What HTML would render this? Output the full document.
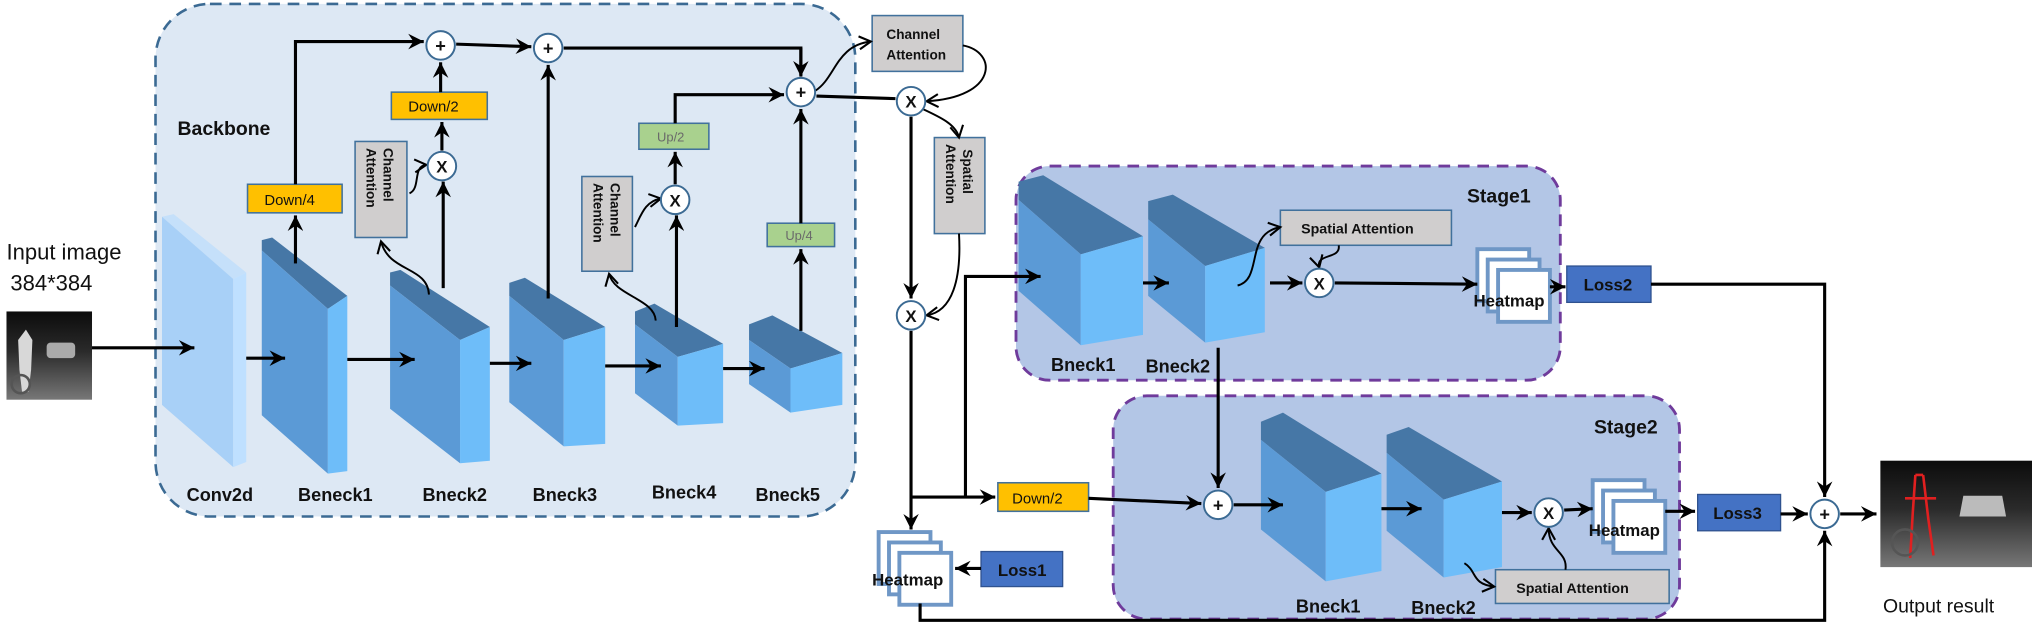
<!DOCTYPE html>
<html><head><meta charset="utf-8"><style>
html,body{margin:0;padding:0;background:#fff;}
svg{display:block;}
text{font-family:"Liberation Sans",sans-serif;font-weight:bold;fill:#111;}
</style></head><body>
<svg width="2032" height="632" viewBox="0 0 1568 487" preserveAspectRatio="none" xmlns="http://www.w3.org/2000/svg">
<defs>
<marker id="a" markerUnits="userSpaceOnUse" markerWidth="14" markerHeight="12" refX="12" refY="6" orient="auto">
<path d="M0,0 L12,6 L0,12 L4,6 Z" fill="#000"/>
</marker>
<marker id="b" markerUnits="userSpaceOnUse" markerWidth="12" markerHeight="12" refX="10" refY="6" orient="auto">
<path d="M1,1 L10,6 L1,11" fill="none" stroke="#000" stroke-width="1.6"/>
</marker>
<linearGradient id="ph" x1="0" y1="0" x2="0" y2="1"><stop offset="0" stop-color="#0c0c0c"/><stop offset="0.45" stop-color="#2a2a2a"/><stop offset="1" stop-color="#777"/></linearGradient>
</defs>

<rect x="120" y="3" width="540" height="395" rx="42" fill="#dde8f4" stroke="#3b6a93" stroke-width="2" stroke-dasharray="9,6"/>
<rect x="784" y="128" width="420" height="165" rx="26" fill="#b3c6e6" stroke="#6f3b9b" stroke-width="2.2" stroke-dasharray="9,6"/>
<rect x="859" y="305" width="437" height="172" rx="26" fill="#b3c6e6" stroke="#6f3b9b" stroke-width="2.2" stroke-dasharray="9,6"/>

<text x="137" y="104" font-size="15">Backbone</text>
<text x="1132" y="156" font-size="15">Stage1</text>
<text x="1230" y="334" font-size="15">Stage2</text>

<text x="5" y="200" font-size="17" style="font-weight:normal">Input image</text>
<text x="8" y="224" font-size="17" style="font-weight:normal">384*384</text>
<rect x="5" y="240" width="66" height="68" fill="url(#ph)"/>
<path d="M14,262 L20,254 L25,262 L24,285 L22,302 L17,302 L15,285 Z" fill="#d8d8d8"/>
<circle cx="16" cy="296" r="7" fill="none" stroke="#555" stroke-width="2"/>
<rect x="36" y="264" width="22" height="12" rx="3" fill="#aaa"/>
<rect x="1451" y="355" width="117" height="82" fill="url(#ph)"/>
<path d="M1515,382 L1545,382 L1548,398 L1512,398 Z" fill="#bbb"/>
<path d="M1478,366 L1476,395 L1474,430 M1484,366 L1488,400 L1492,428 M1470,384 L1494,384 M1478,366 L1484,366" stroke="#e02020" stroke-width="2" fill="none"/>
<circle cx="1470" cy="418" r="10" fill="none" stroke="#555" stroke-width="2"/>
<text x="1453" y="472" font-size="15" style="font-weight:normal">Output result</text>

<polygon points="125,167 134,165 190,210 180,215" fill="#c5e0fa"/>
<polygon points="125,167 180,215 180,360 125,312" fill="#a8d0f7"/>
<polygon points="180,215 190,210 190,356 180,360" fill="#bfe0ff"/>

<g>
<polygon points="202,185 210,183 268,228 253,238 202,193" fill="#4677a6"/>
<polygon points="202,193 253,238 253,365 202,320" fill="#5b9ad6"/>
<polygon points="253,238 268,228 268,363 253,365" fill="#6ebdf9"/>
<polygon points="301,210 309,208 378,252 355,262 301,220" fill="#4677a6"/>
<polygon points="301,220 355,262 355,357 301,315" fill="#5b9ad6"/>
<polygon points="355,262 378,252 378,355 355,357" fill="#6ebdf9"/>
<polygon points="393,218 405,214 467,252 435,262 393,228" fill="#4677a6"/>
<polygon points="393,228 435,262 435,344 393,310" fill="#5b9ad6"/>
<polygon points="435,262 467,252 467,342 435,344" fill="#6ebdf9"/>
<polygon points="490,240 505,234 558,265 523,275 490,250" fill="#4677a6"/>
<polygon points="490,250 523,275 523,328 490,303" fill="#5b9ad6"/>
<polygon points="523,275 558,265 558,326 523,328" fill="#6ebdf9"/>
<polygon points="578,250 596,243 650,272 610,284 578,262" fill="#4677a6"/>
<polygon points="578,262 610,284 610,318 578,296" fill="#5b9ad6"/>
<polygon points="610,284 650,272 650,312 610,318" fill="#6ebdf9"/>
<polygon points="786,140 805,135 882,182 834,196 786,154" fill="#4677a6"/>
<polygon points="786,154 834,196 834,266 786,224" fill="#5b9ad6"/>
<polygon points="834,196 882,182 882,258 834,266" fill="#6ebdf9"/>
<polygon points="886,155 905,150 976,191 930,205 886,169" fill="#4677a6"/>
<polygon points="886,169 930,205 930,264 886,228" fill="#5b9ad6"/>
<polygon points="930,205 976,191 976,256 930,264" fill="#6ebdf9"/>
<polygon points="973,325 990,318 1066,365 1023,379 973,339" fill="#4677a6"/>
<polygon points="973,339 1023,379 1023,448 973,408" fill="#5b9ad6"/>
<polygon points="1023,379 1066,365 1066,440 1023,448" fill="#6ebdf9"/>
<polygon points="1070,335 1087,329 1159,371 1114,385 1070,349" fill="#4677a6"/>
<polygon points="1070,349 1114,385 1114,445 1070,409" fill="#5b9ad6"/>
<polygon points="1114,385 1159,371 1159,437 1114,445" fill="#6ebdf9"/>
</g>

<g font-size="14">
<text x="144" y="386">Conv2d</text>
<text x="230" y="386">Beneck1</text>
<text x="326" y="386">Bneck2</text>
<text x="411" y="386">Bneck3</text>
<text x="503" y="384">Bneck4</text>
<text x="583" y="386">Bneck5</text>
<text x="811" y="286">Bneck1</text>
<text x="884" y="287">Bneck2</text>
<text x="1000" y="472">Bneck1</text>
<text x="1089" y="473">Bneck2</text>
</g>

<rect x="191" y="142" width="73" height="22" fill="#ffc000" stroke="#41719c" stroke-width="1.2"/>
<text x="204" y="158" font-size="11.5" style="font-weight:normal">Down/4</text>
<rect x="302" y="71" width="74" height="21" fill="#ffc000" stroke="#41719c" stroke-width="1.2"/>
<text x="315" y="86" font-size="11.5" style="font-weight:normal">Down/2</text>
<rect x="770" y="372" width="70" height="22" fill="#ffc000" stroke="#41719c" stroke-width="1.2"/>
<text x="781" y="388" font-size="11.5" style="font-weight:normal">Down/2</text>
<rect x="493" y="95" width="54" height="20" fill="#a9d18e" stroke="#41719c" stroke-width="1.2"/>
<text x="507" y="109" font-size="10" style="font-weight:normal;fill:#6a6a6a">Up/2</text>
<rect x="592" y="172" width="52" height="18" fill="#a9d18e" stroke="#41719c" stroke-width="1.2"/>
<text x="606" y="185" font-size="10" style="font-weight:normal;fill:#6a6a6a">Up/4</text>

<rect x="673" y="12" width="70" height="43" fill="#d0cece" stroke="#41719c" stroke-width="1.2"/>
<text x="684" y="30" font-size="10.5">Channel</text>
<text x="684" y="46" font-size="10.5">Attention</text>
<rect x="274" y="109" width="40" height="74" fill="#d0cece" stroke="#41719c" stroke-width="1.2"/>
<text transform="translate(296,114) rotate(90)" font-size="10.5">Channel</text>
<text transform="translate(283,114) rotate(90)" font-size="10.5">Attention</text>
<rect x="449" y="136" width="39" height="73" fill="#d0cece" stroke="#41719c" stroke-width="1.2"/>
<text transform="translate(471,141) rotate(90)" font-size="10.5">Channel</text>
<text transform="translate(458,141) rotate(90)" font-size="10.5">Attention</text>
<rect x="721" y="106" width="39" height="74" fill="#d0cece" stroke="#41719c" stroke-width="1.2"/>
<text transform="translate(743,115) rotate(90)" font-size="10.5">Spatial</text>
<text transform="translate(730,111) rotate(90)" font-size="10.5">Attention</text>
<rect x="988" y="162" width="132" height="27" fill="#d0cece" stroke="#41719c" stroke-width="1.2"/>
<text x="1004" y="180" font-size="11">Spatial Attention</text>
<rect x="1154" y="439" width="134" height="26" fill="#d0cece" stroke="#41719c" stroke-width="1.2"/>
<text x="1170" y="457" font-size="11">Spatial Attention</text>

<rect x="1209" y="205" width="65" height="28" fill="#4472c4" stroke="#2f528f"/>
<text x="1222" y="224" font-size="13">Loss2</text>
<rect x="1310" y="381" width="64" height="28" fill="#4472c4" stroke="#2f528f"/>
<text x="1322" y="400" font-size="13">Loss3</text>
<rect x="757" y="425" width="63" height="27" fill="#4472c4" stroke="#2f528f"/>
<text x="770" y="444" font-size="13">Loss1</text>

<g fill="#fff" stroke="#6f97c6" stroke-width="3">
<rect x="1140" y="192" width="40" height="40"/><rect x="1148" y="200" width="40" height="40"/><rect x="1156" y="208" width="40" height="40"/>
<rect x="1229" y="370" width="40" height="40"/><rect x="1237" y="378" width="40" height="40"/><rect x="1245" y="386" width="40" height="40"/>
<rect x="678" y="410" width="40" height="40"/><rect x="686" y="418" width="40" height="40"/><rect x="694" y="426" width="40" height="40"/>
</g>
<text x="1137" y="236" font-size="13">Heatmap</text>
<text x="1226" y="413" font-size="13">Heatmap</text>
<text x="673" y="451" font-size="13">Heatmap</text>

<g fill="none" stroke="#000" stroke-width="2.4">
<line x1="71" y1="268" x2="150" y2="268" marker-end="url(#a)"/>
<line x1="190" y1="276" x2="220" y2="276" marker-end="url(#a)"/>
<line x1="268" y1="277" x2="320" y2="277" marker-end="url(#a)"/>
<line x1="378" y1="280" x2="410" y2="280" marker-end="url(#a)"/>
<line x1="467" y1="282" x2="510" y2="282" marker-end="url(#a)"/>
<line x1="558" y1="284" x2="590" y2="284" marker-end="url(#a)"/>
<line x1="228" y1="203" x2="228" y2="166" marker-end="url(#a)"/>
<polyline points="228,142 228,32 327,32" marker-end="url(#a)"/>
<line x1="342" y1="222" x2="342" y2="140" marker-end="url(#a)"/>
<line x1="341" y1="116" x2="341" y2="94" marker-end="url(#a)"/>
<line x1="340" y1="71" x2="340" y2="48" marker-end="url(#a)"/>
<line x1="352" y1="34" x2="410" y2="36" marker-end="url(#a)"/>
<line x1="423" y1="230" x2="423" y2="50" marker-end="url(#a)"/>
<polyline points="435,37 618,37 618,58"/>
<line x1="618" y1="37" x2="618" y2="59" marker-end="url(#a)"/>
<line x1="522" y1="252" x2="522" y2="166" marker-end="url(#a)"/>
<line x1="521" y1="142" x2="521" y2="117" marker-end="url(#a)"/>
<polyline points="521,95 521,73 605,73" marker-end="url(#a)"/>
<line x1="618" y1="255" x2="618" y2="192" marker-end="url(#a)"/>
<line x1="618" y1="172" x2="618" y2="84" marker-end="url(#a)"/>
<line x1="630" y1="74" x2="691" y2="76"/>
<line x1="703" y1="90" x2="703" y2="230" marker-end="url(#a)"/>
<line x1="703" y1="255" x2="703" y2="408" marker-end="url(#a)"/>
<line x1="703" y1="383" x2="768" y2="383" marker-end="url(#a)"/>
<polyline points="745,383 745,213 803,213" marker-end="url(#a)"/>
<line x1="840" y1="384" x2="927" y2="388" marker-end="url(#a)"/>
<line x1="940" y1="268" x2="940" y2="376" marker-end="url(#a)"/>
<line x1="952" y1="389" x2="990" y2="389" marker-end="url(#a)"/>
<line x1="1066" y1="392" x2="1097" y2="392" marker-end="url(#a)"/>
<line x1="1159" y1="395" x2="1182" y2="395" marker-end="url(#a)"/>
<line x1="1207" y1="393" x2="1229" y2="392" marker-end="url(#a)"/>
<line x1="1285" y1="394" x2="1308" y2="394" marker-end="url(#a)"/>
<line x1="1374" y1="396" x2="1395" y2="396" marker-end="url(#a)"/>
<line x1="1420" y1="396" x2="1448" y2="396" marker-end="url(#a)"/>
<polyline points="1274,219 1408,219 1408,383" marker-end="url(#a)"/>
<polyline points="710,465 710,478 1408,478 1408,409" marker-end="url(#a)"/>
<line x1="757" y1="438" x2="737" y2="438" marker-end="url(#a)"/>
<line x1="882" y1="218" x2="902" y2="218" marker-end="url(#a)"/>
<line x1="980" y1="218" x2="1005" y2="218" marker-end="url(#a)"/>
<line x1="1030" y1="218" x2="1140" y2="219" marker-end="url(#a)"/>
<line x1="1196" y1="221" x2="1208" y2="221" marker-end="url(#a)"/>
</g>
<g fill="none" stroke="#000" stroke-width="1.5">
<path d="M331,227 C330,205 300,210 294,186" marker-end="url(#b)"/>
<path d="M316,149 C325,145 318,128 329,127" marker-end="url(#b)"/>
<path d="M506,247 C505,230 474,228 470,211" marker-end="url(#b)"/>
<path d="M490,175 C495,165 498,155 510,153" marker-end="url(#b)"/>
<path d="M629,70 C645,60 645,35 672,32" marker-end="url(#b)"/>
<path d="M743,35 C770,40 770,75 715,78" marker-end="url(#b)"/>
<path d="M712,84 C725,90 738,96 740,106" marker-end="url(#b)"/>
<path d="M740,180 C742,215 735,240 715,243" marker-end="url(#b)"/>
<path d="M955,220 C975,215 960,180 988,175" marker-end="url(#b)"/>
<path d="M1033,189 C1035,200 1015,195 1018,206" marker-end="url(#b)"/>
<path d="M1130,434 C1140,440 1135,450 1153,452" marker-end="url(#b)"/>
<path d="M1208,439 C1210,425 1195,425 1195,407" marker-end="url(#b)"/>
</g>

<g fill="#fff" stroke="#3b6a93" stroke-width="1.5">
<circle cx="340" cy="35" r="11"/><circle cx="423" cy="37" r="11"/><circle cx="618" cy="71" r="11"/>
<circle cx="341" cy="128" r="11"/><circle cx="521" cy="154" r="11"/>
<circle cx="703" cy="78" r="11"/><circle cx="703" cy="243" r="11"/>
<circle cx="1018" cy="218" r="11"/><circle cx="940" cy="389" r="11"/><circle cx="1195" cy="395" r="11"/>
<circle cx="1408" cy="396" r="11"/>
</g>
<g font-size="14" text-anchor="middle">
<text x="340" y="40">+</text><text x="423" y="42">+</text><text x="618" y="76">+</text>
<text x="940" y="394">+</text><text x="1408" y="401">+</text>
<text x="341" y="133" font-size="13">X</text><text x="521" y="159" font-size="13">X</text>
<text x="703" y="83" font-size="13">X</text><text x="703" y="248" font-size="13">X</text>
<text x="1018" y="223" font-size="13">X</text><text x="1195" y="400" font-size="13">X</text>
</g>
</svg>
</body></html>
